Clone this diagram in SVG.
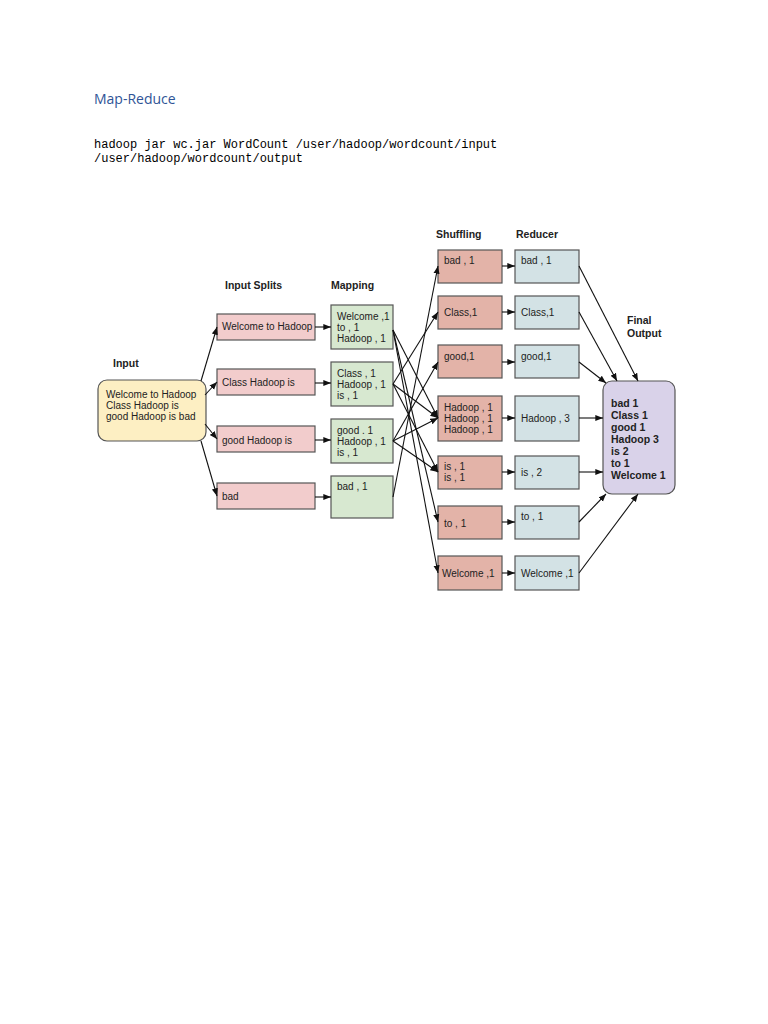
<svg xmlns="http://www.w3.org/2000/svg" width="768" height="1024" viewBox="0 0 768 1024">
<style>
text{font-family:"Liberation Sans",Arial,sans-serif;font-size:10px;fill:#222}
.h{font-weight:bold;font-size:10.5px}
.b{stroke:#555;stroke-width:1.2}
.sp{fill:#f2cccc}.mp{fill:#d7e8d0}.sh{fill:#e3b3a8}.rd{fill:#d3e2e5}
.c path,.c line{stroke:#111;stroke-width:1.1;fill:none;marker-end:url(#a)}
</style>
<defs><marker id="a" viewBox="0 0 10 10" refX="10" refY="5" markerWidth="7" markerHeight="7" orient="auto"><path d="M0,1 L10,5 L0,9z" fill="#111"/></marker></defs>
<rect width="768" height="1024" fill="#fff"/>
<text x="94" y="104" style="font-family:'Open Sans',sans-serif;font-size:14px;fill:#2f5496">Map-Reduce</text>
<text x="94" y="148" style="font-family:'Liberation Mono',monospace;font-size:12px;fill:#000">hadoop jar wc.jar WordCount /user/hadoop/wordcount/input</text>
<text x="94" y="162" style="font-family:'Liberation Mono',monospace;font-size:12px;fill:#000">/user/hadoop/wordcount/output</text>
<text class="h" x="113" y="367">Input</text>
<text class="h" x="225" y="289">Input Splits</text>
<text class="h" x="331" y="289">Mapping</text>
<text class="h" x="436" y="238">Shuffling</text>
<text class="h" x="516" y="238">Reducer</text>
<text class="h" x="627" y="324">Final</text>
<text class="h" x="627" y="337">Output</text>
<g id="input"><rect class="b" x="98" y="380" width="108" height="61" rx="9" fill="#fdefc3"/><text x="106" y="398">Welcome to Hadoop</text><text x="106" y="409">Class Hadoop is</text><text x="106" y="420">good Hadoop is bad</text></g>
<g id="s1"><rect class="b sp" x="217" y="314" width="98" height="26"/><text x="222" y="330">Welcome to Hadoop</text></g>
<g id="s2"><rect class="b sp" x="217" y="369" width="98" height="26"/><text x="222" y="386">Class Hadoop is</text></g>
<g id="s3"><rect class="b sp" x="217" y="426" width="98" height="26"/><text x="222" y="444">good Hadoop is</text></g>
<g id="s4"><rect class="b sp" x="217" y="483" width="98" height="26"/><text x="222" y="500">bad</text></g>
<g id="m1"><rect class="b mp" x="331" y="305" width="62" height="44"/><text x="337" y="320">Welcome ,1</text><text x="337" y="331">to , 1</text><text x="337" y="342">Hadoop , 1</text></g>
<g id="m2"><rect class="b mp" x="331" y="362" width="62" height="44"/><text x="337" y="377">Class , 1</text><text x="337" y="388">Hadoop , 1</text><text x="337" y="399">is , 1</text></g>
<g id="m3"><rect class="b mp" x="331" y="419" width="62" height="44"/><text x="337" y="434">good . 1</text><text x="337" y="445">Hadoop , 1</text><text x="337" y="456">is , 1</text></g>
<g id="m4"><rect class="b mp" x="331" y="476" width="62" height="42"/><text x="337" y="490">bad , 1</text></g>
<g id="sh1"><rect class="b sh" x="438" y="250" width="64" height="33"/><text x="444" y="264">bad , 1</text></g>
<g id="sh2"><rect class="b sh" x="438" y="296" width="64" height="33"/><text x="444" y="316">Class,1</text></g>
<g id="sh3"><rect class="b sh" x="438" y="345" width="64" height="33"/><text x="444" y="360">good,1</text></g>
<g id="sh4"><rect class="b sh" x="438" y="396" width="64" height="45"/><text x="444" y="411">Hadoop , 1</text><text x="444" y="422">Hadoop , 1</text><text x="444" y="433">Hadoop , 1</text></g>
<g id="sh5"><rect class="b sh" x="438" y="456" width="64" height="33"/><text x="444" y="470">is , 1</text><text x="444" y="481">is , 1</text></g>
<g id="sh6"><rect class="b sh" x="438" y="506" width="64" height="33"/><text x="444" y="527">to ,  1</text></g>
<g id="sh7"><rect class="b sh" x="438" y="556" width="64" height="34"/><text x="442" y="577">Welcome ,1</text></g>
<g id="r1"><rect class="b rd" x="515" y="250" width="64" height="33"/><text x="521" y="264">bad , 1</text></g>
<g id="r2"><rect class="b rd" x="515" y="296" width="64" height="33"/><text x="521" y="316">Class,1</text></g>
<g id="r3"><rect class="b rd" x="515" y="345" width="64" height="33"/><text x="521" y="360">good,1</text></g>
<g id="r4"><rect class="b rd" x="515" y="396" width="64" height="45"/><text x="521" y="422">Hadoop , 3</text></g>
<g id="r5"><rect class="b rd" x="515" y="456" width="64" height="33"/><text x="521" y="476">is , 2</text></g>
<g id="r6"><rect class="b rd" x="515" y="506" width="64" height="33"/><text x="521" y="520">to ,  1</text></g>
<g id="r7"><rect class="b rd" x="515" y="556" width="64" height="34"/><text x="521" y="577">Welcome ,1</text></g>
<g id="final"><rect class="b" x="603" y="381" width="72" height="113" rx="9" fill="#d9d2e9"/>
<text class="h" x="611" y="407">bad 1</text><text class="h" x="611" y="419">Class 1</text><text class="h" x="611" y="431">good 1</text><text class="h" x="611" y="443">Hadoop 3</text><text class="h" x="611" y="455">is 2</text><text class="h" x="611" y="467">to 1</text><text class="h" x="611" y="479">Welcome 1</text></g>
<g class="c" id="connectors">
<path d="M201,381 L217,327"/><path d="M205,395 L217,382"/><path d="M205,424 L217,439"/><path d="M201,441 L217,496"/>
<line x1="315" y1="327" x2="331" y2="327"/><line x1="315" y1="383" x2="331" y2="383"/><line x1="315" y1="440" x2="331" y2="440"/><line x1="315" y1="497" x2="331" y2="497"/>
<path d="M393,330 L438,418"/><path d="M393,330 L438,522"/><path d="M393,330 L438,573"/>
<path d="M393,384 L438,312"/><path d="M393,384 L438,418"/><path d="M393,384 L438,472"/>
<path d="M393,441 L438,362"/><path d="M393,441 L438,418"/><path d="M393,441 L438,472"/>
<path d="M393,497 L438,266"/>
<line x1="502" y1="266" x2="515" y2="266"/><line x1="502" y1="312" x2="515" y2="312"/><line x1="502" y1="362" x2="515" y2="362"/><line x1="502" y1="418" x2="515" y2="418"/><line x1="502" y1="472" x2="515" y2="472"/><line x1="502" y1="522" x2="515" y2="522"/><line x1="502" y1="573" x2="515" y2="573"/>
<path d="M579,266 L638,381"/><path d="M579,312 L617,381"/><path d="M579,362 L606,383"/><line x1="579" y1="418" x2="603" y2="418"/><line x1="579" y1="472" x2="603" y2="472"/><path d="M579,522 L606,494"/><path d="M579,573 L638,494"/>
</g>
</svg>
